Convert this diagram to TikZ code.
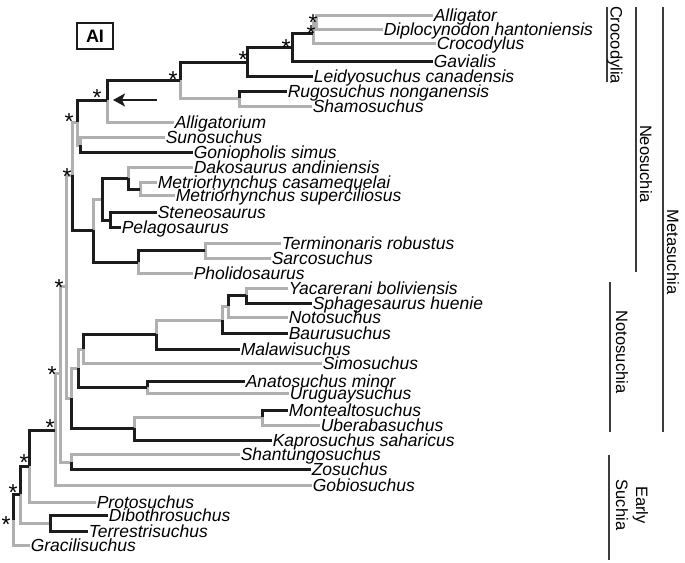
\documentclass[tikz,border=0pt]{standalone}
\usepackage{fontspec}
\setmainfont{Liberation Sans}
\usepackage{tikz}
\usetikzlibrary{arrows.meta, calc}
\definecolor{lite}{HTML}{B0B0B0}
\definecolor{dark}{HTML}{1C1C1C}
\definecolor{barline}{HTML}{3C3C3C}

\begin{document}
\begin{tikzpicture}[
  x=1pt, y=-1pt,
  every node/.style={inner sep=0pt},
  taxon/.style={anchor=west, inner xsep=0.6pt, text height=13pt, text depth=0pt,
                font=\fontsize{17.5}{18}\selectfont\itshape},
  clade/.style={rotate=-90, align=center, font=\fontsize{16.5}{20}\selectfont},
  ast/.style={anchor=base, font=\fontsize{23}{23}\selectfont},
  blk/.style={draw=dark, line width=3pt},
  gry/.style={draw=lite, line width=3pt},
  bar/.style={draw=barline, line width=2.6pt},
  arr/.style={-{Stealth[length=12pt, width=13pt, inset=3pt]}, line width=2.2pt, draw=dark}
]
  \useasboundingbox (0,0) rectangle (685,562);

  \node[draw=dark, line width=1.4pt, minimum width=36pt, minimum height=26pt,
        font=\fontsize{18}{18}\selectfont\bfseries] (panel) at (95,36) {AI};

  % internal nodes
  \coordinate (r) at (13,520);
  \coordinate (a) at (20,494);
  \coordinate (dt) at (50,523);
  \coordinate (b) at (29,466);
  \coordinate (c) at (55,430);
  \coordinate (d) at (60,373);
  \coordinate (sz) at (71,462);
  \coordinate (e) at (66,286);
  \coordinate (noto) at (71,398);
  \coordinate (n78) at (78,368);
  \coordinate (n83) at (83,349);
  \coordinate (mal) at (156,334);
  \coordinate (ysnb) at (222,320);
  \coordinate (ysn) at (228,306);
  \coordinate (ys) at (246,295);
  \coordinate (au) at (147,387);
  \coordinate (kap) at (134,428);
  \coordinate (mu) at (262,417);
  \coordinate (f) at (72,175);
  \coordinate (tp) at (93,230);
  \coordinate (thal) at (102,199);
  \coordinate (metrio) at (128,178);
  \coordinate (mm) at (140,189);
  \coordinate (sp) at (110,220);
  \coordinate (phol) at (138,262);
  \coordinate (ts) at (205,250);
  \coordinate (g) at (77,122);
  \coordinate (sg) at (80,145);
  \coordinate (h) at (107,100);
  \coordinate (i) at (180,80);
  \coordinate (rs) at (239,98);
  \coordinate (j) at (247,62);
  \coordinate (k) at (292,47);
  \coordinate (l) at (313,33);
  \coordinate (m) at (316,22);

  % taxa
  \node[taxon] (alligator) at (433,15) {Alligator};
  \node[taxon] (diplocynodon) at (383,29) {Diplocynodon hantoniensis};
  \node[taxon] (crocodylus) at (436,43) {Crocodylus};
  \node[taxon] (gavialis) at (433,61) {Gavialis};
  \node[taxon] (leidyosuchus) at (313,76) {Leidyosuchus canadensis};
  \node[taxon] (rugosuchus) at (287,91) {Rugosuchus nonganensis};
  \node[taxon] (shamosuchus) at (312,106) {Shamosuchus};
  \node[taxon] (alligatorium) at (174,122) {Alligatorium};
  \node[taxon] (sunosuchus) at (165,137) {Sunosuchus};
  \node[taxon] (goniopholis) at (193,152) {Goniopholis simus};
  \node[taxon] (dakosaurus) at (193,167) {Dakosaurus andiniensis};
  \node[taxon] (metriocas) at (157,182) {Metriorhynchus casamequelai};
  \node[taxon] (metriosup) at (175,195) {Metriorhynchus superciliosus};
  \node[taxon] (steneosaurus) at (157,212) {Steneosaurus};
  \node[taxon] (pelagosaurus) at (121,227) {Pelagosaurus};
  \node[taxon] (terminonaris) at (281,243) {Terminonaris robustus};
  \node[taxon] (sarcosuchus) at (271,258) {Sarcosuchus};
  \node[taxon] (pholidosaurus) at (193,273) {Pholidosaurus};
  \node[taxon] (yacarerani) at (288,288) {Yacarerani boliviensis};
  \node[taxon] (sphagesaurus) at (312,303) {Sphagesaurus huenie};
  \node[taxon] (notosuchus) at (288,317) {Notosuchus};
  \node[taxon] (baurusuchus) at (288,333) {Baurusuchus};
  \node[taxon] (malawisuchus) at (240,349) {Malawisuchus};
  \node[taxon] (simosuchus) at (322,363) {Simosuchus};
  \node[taxon] (anatosuchus) at (245,381) {Anatosuchus minor};
  \node[taxon] (uruguaysuchus) at (289,393) {Uruguaysuchus};
  \node[taxon] (montealtosuchus) at (288,410) {Montealtosuchus};
  \node[taxon] (uberabasuchus) at (320,425) {Uberabasuchus};
  \node[taxon] (kaprosuchus) at (272,440) {Kaprosuchus saharicus};
  \node[taxon] (shantungosuchus) at (240,454) {Shantungosuchus};
  \node[taxon] (zosuchus) at (311,469) {Zosuchus};
  \node[taxon] (gobiosuchus) at (312,485) {Gobiosuchus};
  \node[taxon] (protosuchus) at (96,502) {Protosuchus};
  \node[taxon] (dibothrosuchus) at (108,515) {Dibothrosuchus};
  \node[taxon] (terrestrisuchus) at (88,531) {Terrestrisuchus};
  \node[taxon] (gracilisuchus) at (30,545) {Gracilisuchus};

  % grey branches
  \draw[gry] (m) |- (alligator.west) (m) |- (diplocynodon.west)
             (l) |- (m) (l) |- (crocodylus.west)
             (i) |- (rs) (rs) |- (shamosuchus.west)
             (h) |- (alligatorium.west)
             (g) |- (sg) (sg) |- (sunosuchus.west)
             (f) |- (g) (e) |- (f) (tp) |- (thal)
             (metrio) |- (dakosaurus.west)
             (mm) |- (metriocas.west) (mm) |- (metriosup.west)
             (ts) |- (terminonaris.west) (ts) |- (sarcosuchus.west)
             (phol) |- (pholidosaurus.west)
             (d) |- (e) (e) |- (noto) (noto) |- (n78) (n78) |- (n83)
             (n83) |- (simosuchus.west)
             (mal) |- (ysnb) (ysnb) |- (ysn) (ysn) |- (notosuchus.west)
             (ys) |- (yacarerani.west)
             (au) |- (uruguaysuchus.west)
             (kap) |- (mu) (mu) |- (uberabasuchus.west)
             (c) |- (d) (d) |- (sz) (sz) |- (shantungosuchus.west)
             (c) |- (gobiosuchus.west)
             (b) |- (protosuchus.west)
             (a) |- (dt) (r) |- (gracilisuchus.west);

  % black branches
  \draw[blk] (k) |- (l) (k) |- (gavialis.west)
             (j) |- (k) (j) |- (leidyosuchus.west)
             (i) |- (j) (h) |- (i) (g) |- (h)
             (rs) |- (rugosuchus.west)
             (sg) |- (goniopholis.west)
             (f) |- (tp) (tp) |- (phol)
             (thal) |- (metrio) (thal) |- (sp) (metrio) |- (mm)
             (sp) |- (steneosaurus.west) (sp) |- (pelagosaurus.west)
             (phol) |- (ts)
             (noto) |- (kap) (n78) |- (au) (n83) |- (mal)
             (mal) |- (malawisuchus.west)
             (ysnb) |- (baurusuchus.west)
             (ysn) |- (ys) (ys) |- (sphagesaurus.west)
             (au) |- (anatosuchus.west)
             (kap) |- (kaprosuchus.west)
             (mu) |- (montealtosuchus.west)
             (sz) |- (zosuchus.west)
             (b) |- (c) (a) |- (b) (r) |- (a)
             (dt) |- (dibothrosuchus.west) (dt) |- (terrestrisuchus.west);

  % support stars
  \node[ast] at ($(r)+(-7,12)$) {*};
  \node[ast] at ($(a)+(-7,6)$) {*};
  \node[ast] at ($(b)+(-5,4)$) {*};
  \node[ast] at ($(c)+(-5,5)$) {*};
  \node[ast] at ($(d)+(-8,9)$) {*};
  \node[ast] at ($(e)+(-7,9)$) {*};
  \node[ast] at ($(f)+(-5,9)$) {*};
  \node[ast] at ($(g)+(-8,7)$) {*};
  \node[ast] at ($(h)+(-10,5)$) {*};
  \node[ast] at ($(i)+(-7,7)$) {*};
  \node[ast] at ($(j)+(-4,5)$) {*};
  \node[ast] at ($(k)+(-6,8)$) {*};
  \node[ast] at ($(l)+(-2,8)$) {*};
  \node[ast] at ($(m)+(-3,8)$) {*};

  \coordinate (arrowtail) at (157,100);
  \coordinate (arrowtip) at (113,100);
  \draw[arr] (arrowtail) -- (arrowtip);

  % clade bars
  \coordinate (crocTop) at (607,7);   \coordinate (crocBot) at (607,82);
  \coordinate (neoTop) at (636,7);    \coordinate (neoBot) at (636,272);
  \coordinate (metaTop) at (663,7);   \coordinate (metaBot) at (663,432);
  \coordinate (notoTop) at (610,282); \coordinate (notoBot) at (610,432);
  \coordinate (earlyTop) at (609,455); \coordinate (earlyBot) at (609,560);
  \draw[bar] (crocTop) -- (crocBot);
  \draw[bar] (neoTop) -- (neoBot);
  \draw[bar] (metaTop) -- (metaBot);
  \draw[bar] (notoTop) -- (notoBot);
  \draw[bar] (earlyTop) -- (earlyBot);

  \node[clade] (crocName) at (615,45) {Crocodylia};
  \node[clade] (neoName) at (646,164) {Neosuchia};
  \node[clade] (metaName) at (673,252) {Metasuchia};
  \node[clade] (notoName) at (622,352) {Notosuchia};
  \node[clade] (earlyName) at (632,505) {Early\\Suchia};
\end{tikzpicture}
\end{document}
